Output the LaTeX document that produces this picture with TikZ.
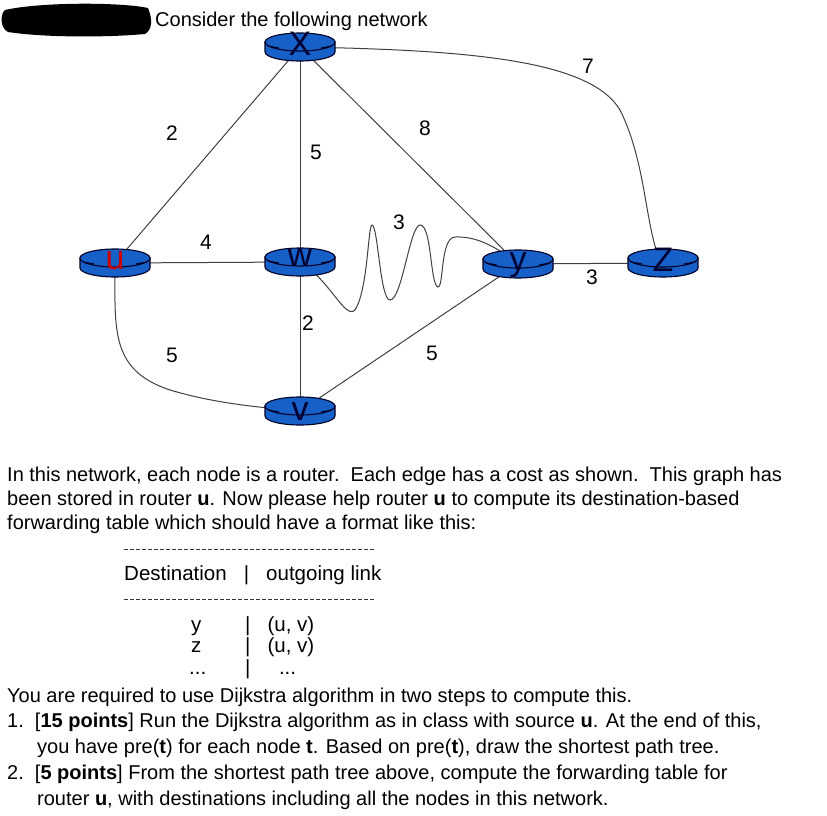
\documentclass[tikz,border=0pt]{standalone}
\usepackage{fontspec}
\setmainfont{Liberation Sans}
\usetikzlibrary{calc}
\begin{document}
\begin{tikzpicture}[x=1pt,y=-1pt,
  edge/.style={draw=black!75,line width=1pt},
  lbl/.style={font=\fontsize{21}{23}\selectfont,inner sep=0pt},
  txt/.style={font=\fontsize{20}{23}\selectfont,anchor=base west,inner sep=0pt},
  tbl/.style={font=\fontsize{20.5}{22}\selectfont,anchor=base west,inner sep=0pt},
  rlab/.style={font=\fontsize{34}{34}\selectfont,inner sep=0pt,text=black!80!blue}]
\useasboundingbox (0,0) rectangle (827,816);
\definecolor{rb}{RGB}{22,96,200}
\newcommand{\router}[1]{%
  \fill[rb,draw=black!85!blue,line width=1.1pt] ($(#1)+(-35,-5)$) -- ($(#1)+(-35,5)$) arc[start angle=180,end angle=0,x radius=35,y radius=9] -- ($(#1)+(35,-5)$) -- cycle;
  \fill[rb,draw=black!85!blue,line width=1.1pt] ($(#1)+(0,-5)$) ellipse[x radius=35,y radius=9];
  \draw[black!85!blue,line width=1.1pt] ($(#1)+(-32,-1)$) -- ($(#1)+(-21,1)$) ($(#1)+(32,-1)$) -- ($(#1)+(21,1)$);
}
\coordinate (px) at (300,47);
\coordinate (pu) at (115,263);
\coordinate (pw) at (300,262);
\coordinate (py) at (518,264);
\coordinate (pz) at (663,263);
\coordinate (pv) at (300,411);
% black blob
\fill[black] (5,10) .. controls (40,2) and (120,2) .. (148,8) .. controls (153,20) and (152,30) .. (145,34) .. controls (100,38) and (40,37) .. (8,32) .. controls (0,28) and (0,14) .. (5,10) -- cycle;
\node[txt] (title) at (155,27) {Consider the following network};
% edges
\draw[edge] (px) -- (pu);
\draw[edge] (px) -- (pw);
\draw[edge] (px) -- (py);
\draw[edge] (px) .. controls (470,50) and (590,60) .. (620,110) .. controls (645,160) and (645,220) .. (658,255);
\draw[edge] (pu) -- (pw);
\draw[edge] (pw) -- (pv);
\draw[edge] (pv) -- (py);
\draw[edge] (py) -- (pz);
\draw[edge] (pu) .. controls (115,330) and (110,370) .. (170,390) .. controls (220,405) and (270,408) .. (pv);
\draw[edge] (pw) .. controls (330,280) and (345,320) .. (355,310) .. controls (368,290) and (368,225) .. (372,225) .. controls (378,225) and (380,300) .. (390,300) .. controls (402,300) and (410,225) .. (420,225) .. controls (432,225) and (430,285) .. (438,287) .. controls (444,287) and (440,238) .. (455,237) .. controls (480,236) and (500,250) .. (py);
% routers
\router{px}\router{pu}\router{pw}\router{py}\router{pz}\router{pv}
\node[rlab] (x) at (300,44) {X};
\node[rlab,text=red!80!black] (u) at (115,261) {u};
\node[rlab] (w) at (300,258) {w};
\node[rlab] (y) at (518,265) {y};
\node[rlab] (z) at (663,260) {Z};
\node[rlab] (v) at (300,412) {v};
% weights
\node[lbl] (l1) at (172,133) {2};
\node[lbl] (l2) at (316,152) {5};
\node[lbl] (l3) at (425,128) {8};
\node[lbl] (l4) at (588,66) {7};
\node[lbl] (l5) at (206,242) {4};
\node[lbl] (l6) at (399,222) {3};
\node[lbl] (l7) at (592,277) {3};
\node[lbl] (l8) at (308,323) {2};
\node[lbl] (l9) at (172,355) {5};
\node[lbl] (l10) at (432,353) {5};
% text
\node[txt] (t1) at (7,481) {In this network, each node is a router.\ \ Each edge has a cost as shown.\ \ This graph has};
\node[txt] (t2) at (7,505) {been stored in router \textbf{u}. Now please help router \textbf{u} to compute its destination-based};
\node[txt] (t3) at (7,529) {forwarding table which should have a format like this:};
\draw[black!80,line width=0.8pt,dash pattern=on 4pt off 2pt] (124,549) -- (374,549);
\node[tbl] (th) at (124,580) {Destination\ \ \ |\ \ \ outgoing link};
\draw[black!80,line width=0.8pt,dash pattern=on 4pt off 2pt] (124,599) -- (374,599);
\node[tbl] (r1a) at (191,631) {y};
\node[tbl] (r1b) at (245,631) {|\ \ \ (u, v)};
\node[tbl] (r2a) at (191,652) {z};
\node[tbl] (r2b) at (245,652) {|\ \ \ (u, v)};
\node[tbl] (r3a) at (189,674) {...};
\node[tbl] (r3b) at (245,674) {|\ \ \ \ \ ...};
\node[txt] (t4) at (7,702) {You are required to use Dijkstra algorithm in two steps to compute this.};
\node[txt] (t5) at (7,727) {1.\ \ [\textbf{15 points}] Run the Dijkstra algorithm as in class with source \textbf{u}. At the end of this,};
\node[txt] (t6) at (37,753) {you have pre(\textbf{t}) for each node \textbf{t}. Based on pre(\textbf{t}), draw the shortest path tree.};
\node[txt] (t7) at (7,779) {2.\ \ [\textbf{5 points}] From the shortest path tree above, compute the forwarding table for};
\node[txt] (t8) at (37,805) {router \textbf{u}, with destinations including all the nodes in this network.};
\end{tikzpicture}
\end{document}
